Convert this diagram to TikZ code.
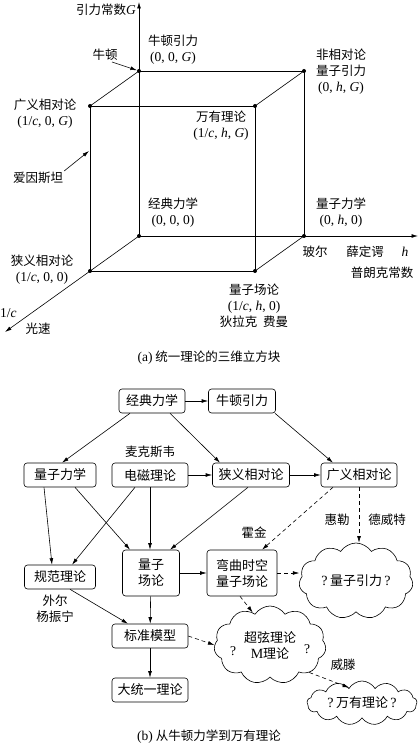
\documentclass[tikz,border=0pt]{standalone}
\usepackage{fontspec}
\setmainfont{Noto Sans CJK SC}
\newfontfamily\lat[Scale=1.08]{Liberation Serif}
\newcommand{\vi}[1]{{\lat\itshape #1}}
\usetikzlibrary{arrows.meta,shapes.symbols}
\begin{document}
\begin{tikzpicture}[x=1pt,y=-1pt,
  lbl/.style={font=\fontsize{12.5}{16}\selectfont, inner sep=1pt, align=center},
  bx/.style={draw, rounded corners=3pt, font=\fontsize{13}{16}\selectfont, align=center,
    minimum height=24pt, minimum width=#1, inner xsep=3pt, inner ysep=2pt, line width=0.6pt},
  bx/.default=76pt,
  arr/.style={-{Latex[length=6.5pt,width=3.8pt]}, line width=0.6pt},
  dsh/.style={arr, dash pattern=on 4pt off 3pt},
  edge/.style={line width=0.6pt},
  dot/.style={circle, fill, inner sep=0pt, minimum size=4pt},
  cld/.style={draw, cloud, cloud puffs=11, cloud puff arc=115, cloud ignores aspect,
    inner sep=0pt, font=\fontsize{13}{16}\selectfont, align=center, line width=0.6pt}
]
\useasboundingbox (0,0) rectangle (419,751);

% ---------- (a) cube ----------
\coordinate (O) at (139,236);
\coordinate (Gt) at (139,2);
\coordinate (Ht) at (418,236);
\coordinate (Ct) at (5,332);
\node[dot] (p000) at (139,236) {};
\node[dot] (p0h0) at (304,236) {};
\node[dot] (pc00) at (90,271) {};
\node[dot] (pch0) at (255,271) {};
\node[dot] (p00G) at (139,71) {};
\node[dot] (p0hG) at (304,71) {};
\node[dot] (pc0G) at (90,106) {};
\node[dot] (pchG) at (255,106) {};

\draw[arr] (O) -- (Gt);
\draw[arr] (O) -- (Ht);
\draw[arr] (O) -- (Ct);
\draw[edge] (p00G.center) -- (p0hG.center) -- (p0h0.center);
\draw[edge] (pc0G.center) -- (pchG.center) -- (pch0.center) -- (pc00.center) -- cycle;
\draw[edge] (pc0G.center) -- (p00G.center);
\draw[edge] (pchG.center) -- (p0hG.center);
\draw[edge] (pch0.center) -- (p0h0.center);

\node[lbl, anchor=east] (lG) at (137,10) {引力常数\vi{G}};
\node[lbl] (l00G) at (173,50) {牛顿引力\\{\lat(0, 0, \vi{G})}};
\node[lbl] (lnt) at (105,55) {牛顿};
\draw[arr] (112,62) -- (p00G);
\node[lbl] (l0hG) at (341,72) {非相对论\\量子引力\\{\lat(0, \vi{h}, \vi{G})}};
\node[lbl] (lc0G) at (45,114) {广义相对论\\{\lat(1/\vi{c}, 0, \vi{G})}};
\node[lbl] (lchG) at (221,126) {万有理论\\{\lat(1/\vi{c}, \vi{h}, \vi{G})}};
\node[lbl] (lein) at (38,178) {爱因斯坦};
\coordinate (einp) at (89,151);
\draw[arr] (lein.north east) -- (einp);
\node[lbl] (l000) at (173,213) {经典力学\\{\lat(0, 0, 0)}};
\node[lbl] (l0h0) at (341,213) {量子力学\\{\lat(0, \vi{h}, 0)}};
\node[lbl] (lc00) at (42,270) {狭义相对论\\{\lat(1/\vi{c}, 0, 0)}};
\node[lbl] (lbe) at (315,252) {玻尔};
\node[lbl] (lxd) at (365,252) {薛定谔};
\node[lbl] (lh) at (405,252) {\vi{h}};
\node[lbl] (lpl) at (382,273) {普朗克常数};
\node[lbl] (lch0) at (254,306) {量子场论\\{\lat(1/\vi{c}, \vi{h}, 0)}\\狄拉克\ \ 费曼};
\node[lbl, anchor=west] (lc) at (-1,313) {{\lat 1/}\vi{c}};
\node[lbl] (lgs) at (38,329) {光速};
\node[lbl] (capa) at (209,358) {{\lat(a)} 统一理论的三维立方块};

% ---------- (b) flow ----------
\node[bx=66pt] (jd) at (152,401) {经典力学};
\node[bx=67pt] (nd) at (242,401) {牛顿引力};
\node[bx=72pt] (lzlx) at (60,475) {量子力学};
\node[bx] (dc) at (150,475) {电磁理论};
\node[bx=77pt] (xy) at (251,475) {狭义相对论};
\node[bx] (gy) at (359,475) {广义相对论};
\node[bx=71pt] (gf) at (60,577) {规范理论};
\node[bx=57pt, minimum height=46pt] (qft) at (151,573) {量子\\场论};
\node[bx=70pt, minimum height=46pt] (wq) at (242,573) {弯曲时空\\量子场论};
\node[bx] (bz) at (150,636) {标准模型};
\node[bx] (dt) at (150,690) {大统一理论};
\node[cld, minimum width=114pt, minimum height=76pt] (qg) at (356,581) {{\lat ?\,}量子引力{\lat\,?}};
\node[cld, minimum width=112pt, minimum height=78pt] (sx) at (270,645) {超弦理论\\{\lat M}理论};
\node[lbl] (q1) at (233,651) {\lat ?};
\node[lbl] (q2) at (307,649) {\lat ?};
\node[cld, cloud puffs=13, cloud puff arc=120, minimum width=110pt, minimum height=44pt] (wy) at (362,703) {{\lat ?\,}万有理论{\lat\,?}};

\node[lbl] (mx) at (150,452) {麦克斯韦};
\node[lbl] (hj) at (254,533) {霍金};
\node[lbl] (hl) at (337,520) {惠勒};
\node[lbl] (dw) at (387,520) {德威特};
\node[lbl] (we) at (55,609) {外尔\\杨振宁};
\node[lbl] (wt) at (343,665) {威滕};
\node[lbl] (capb) at (209,737) {{\lat(b)} 从牛顿力学到万有理论};

\draw[arr] (jd) -- (nd);
\draw[arr] ([xshift=-22pt]jd.south) -- ([xshift=2pt]lzlx.north);
\draw[arr] ([xshift=18pt]jd.south) -- ([xshift=-31pt]xy.north);
\draw[arr] ([xshift=33pt]nd.south) -- ([xshift=-26pt]gy.north);
\draw[arr] (dc) -- (xy);
\draw[arr] (xy) -- (gy);
\draw[dsh] ([xshift=-26pt]gy.south) -- ([xshift=20pt]wq.north);
\draw[dsh] (gy.south) -- (gy.south |- qg.north);
\draw[arr] ([xshift=-16pt]lzlx.south) -- ([xshift=-8pt]gf.north);
\draw[arr] ([xshift=-15pt]dc.south) -- ([xshift=12pt]gf.north);
\draw[arr] ([xshift=15pt]lzlx.south) -- ([xshift=-21pt]qft.north);
\draw[arr] (dc.south) -- (dc.south |- qft.north);
\draw[arr] ([xshift=-3pt]xy.south) -- ([xshift=19pt]qft.north);
\draw[arr] (qft) -- (wq);
\draw[dsh] (wq.east) -- (wq.east -| qg.west);
\draw[dsh] ([xshift=-2pt]wq.south) -- (sx.118);
\draw[arr] (qft) -- (bz);
\draw[arr] ([xshift=10pt]gf.south) -- ([xshift=-22pt]bz.north);
\draw[dsh] (bz.east) -- (sx.west);
\draw[arr] (bz) -- (dt);
\draw[dsh] (sx.-35) -- (wy.130);
\end{tikzpicture}
\end{document}
